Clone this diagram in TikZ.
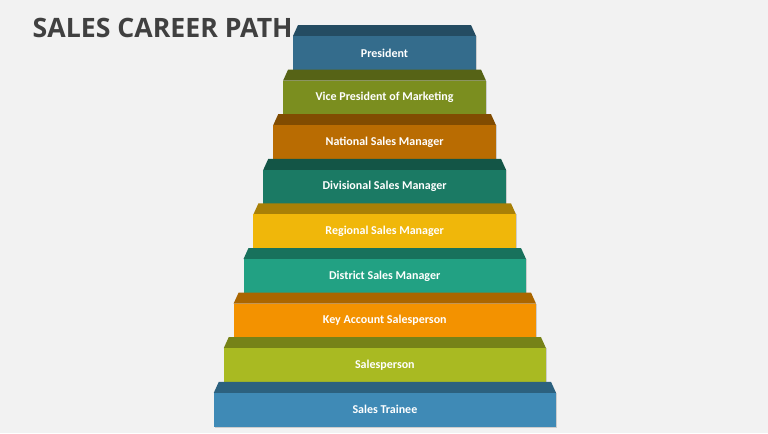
\documentclass[tikz,border=0pt]{standalone}
\usepackage{fontspec}
\setmainfont{Carlito}
\newfontfamily\titlefont{Open Sans}
\usetikzlibrary{positioning, calc}
\definecolor{bg-gray}{HTML}{F2F2F2}
\definecolor{title-gray}{HTML}{404040}
\definecolor{c-pres}{HTML}{346C8C}
\definecolor{c-vp}{HTML}{7B8E1F}
\definecolor{c-nat}{HTML}{B96C02}
\definecolor{c-div}{HTML}{1B7A64}
\definecolor{c-reg}{HTML}{F0B70A}
\definecolor{c-dist}{HTML}{22A183}
\definecolor{c-key}{HTML}{F39200}
\definecolor{c-sales}{HTML}{A9BA22}
\definecolor{c-train}{HTML}{3F8AB6}

\begin{document}
\begin{tikzpicture}[
    x=0.75pt, y=-0.75pt,
    stepface/.style={rectangle, inner sep=0pt, minimum height=25.5pt, text=white, font=\small\bfseries},
    bevel/.style={fill=#1!70!black}
]
\fill[bg-gray] (0,0) rectangle (768,433);
\useasboundingbox (0,0) rectangle (768,433);

\node[anchor=west, text=title-gray, font=\titlefont\bfseries\fontsize{20}{24}\selectfont] (title) at (28,28) {SALES CAREER PATH};

% steps, top to bottom
\foreach \lbl/\col [count=\i from 0] in {President/c-pres, Vice President of Marketing/c-vp, National Sales Manager/c-nat, Divisional Sales Manager/c-div, Regional Sales Manager/c-reg, District Sales Manager/c-dist, Key Account Salesperson/c-key, Salesperson/c-sales, Sales Trainee/c-train} {
  \pgfmathsetmacro{\xl}{293-9.9*\i}
  \pgfmathsetmacro{\xr}{476+10*\i}
  \pgfmathsetmacro{\yt}{25+44.6*\i}
  \fill[bevel=\col] (\xl,\yt+11) -- (\xl+5,\yt) -- (\xr-5,\yt) -- (\xr,\yt+11) -- cycle;
  \fill[black, opacity=0.15] (\xl+1,\yt+11) rectangle (\xr+1,\yt+46.5);
  \node[stepface, fill=\col, minimum width=(\xr-\xl)*0.75pt] (step\i) at ({(\xl+\xr)/2},\yt+28) {\lbl};
}
\end{tikzpicture}
\end{document}
